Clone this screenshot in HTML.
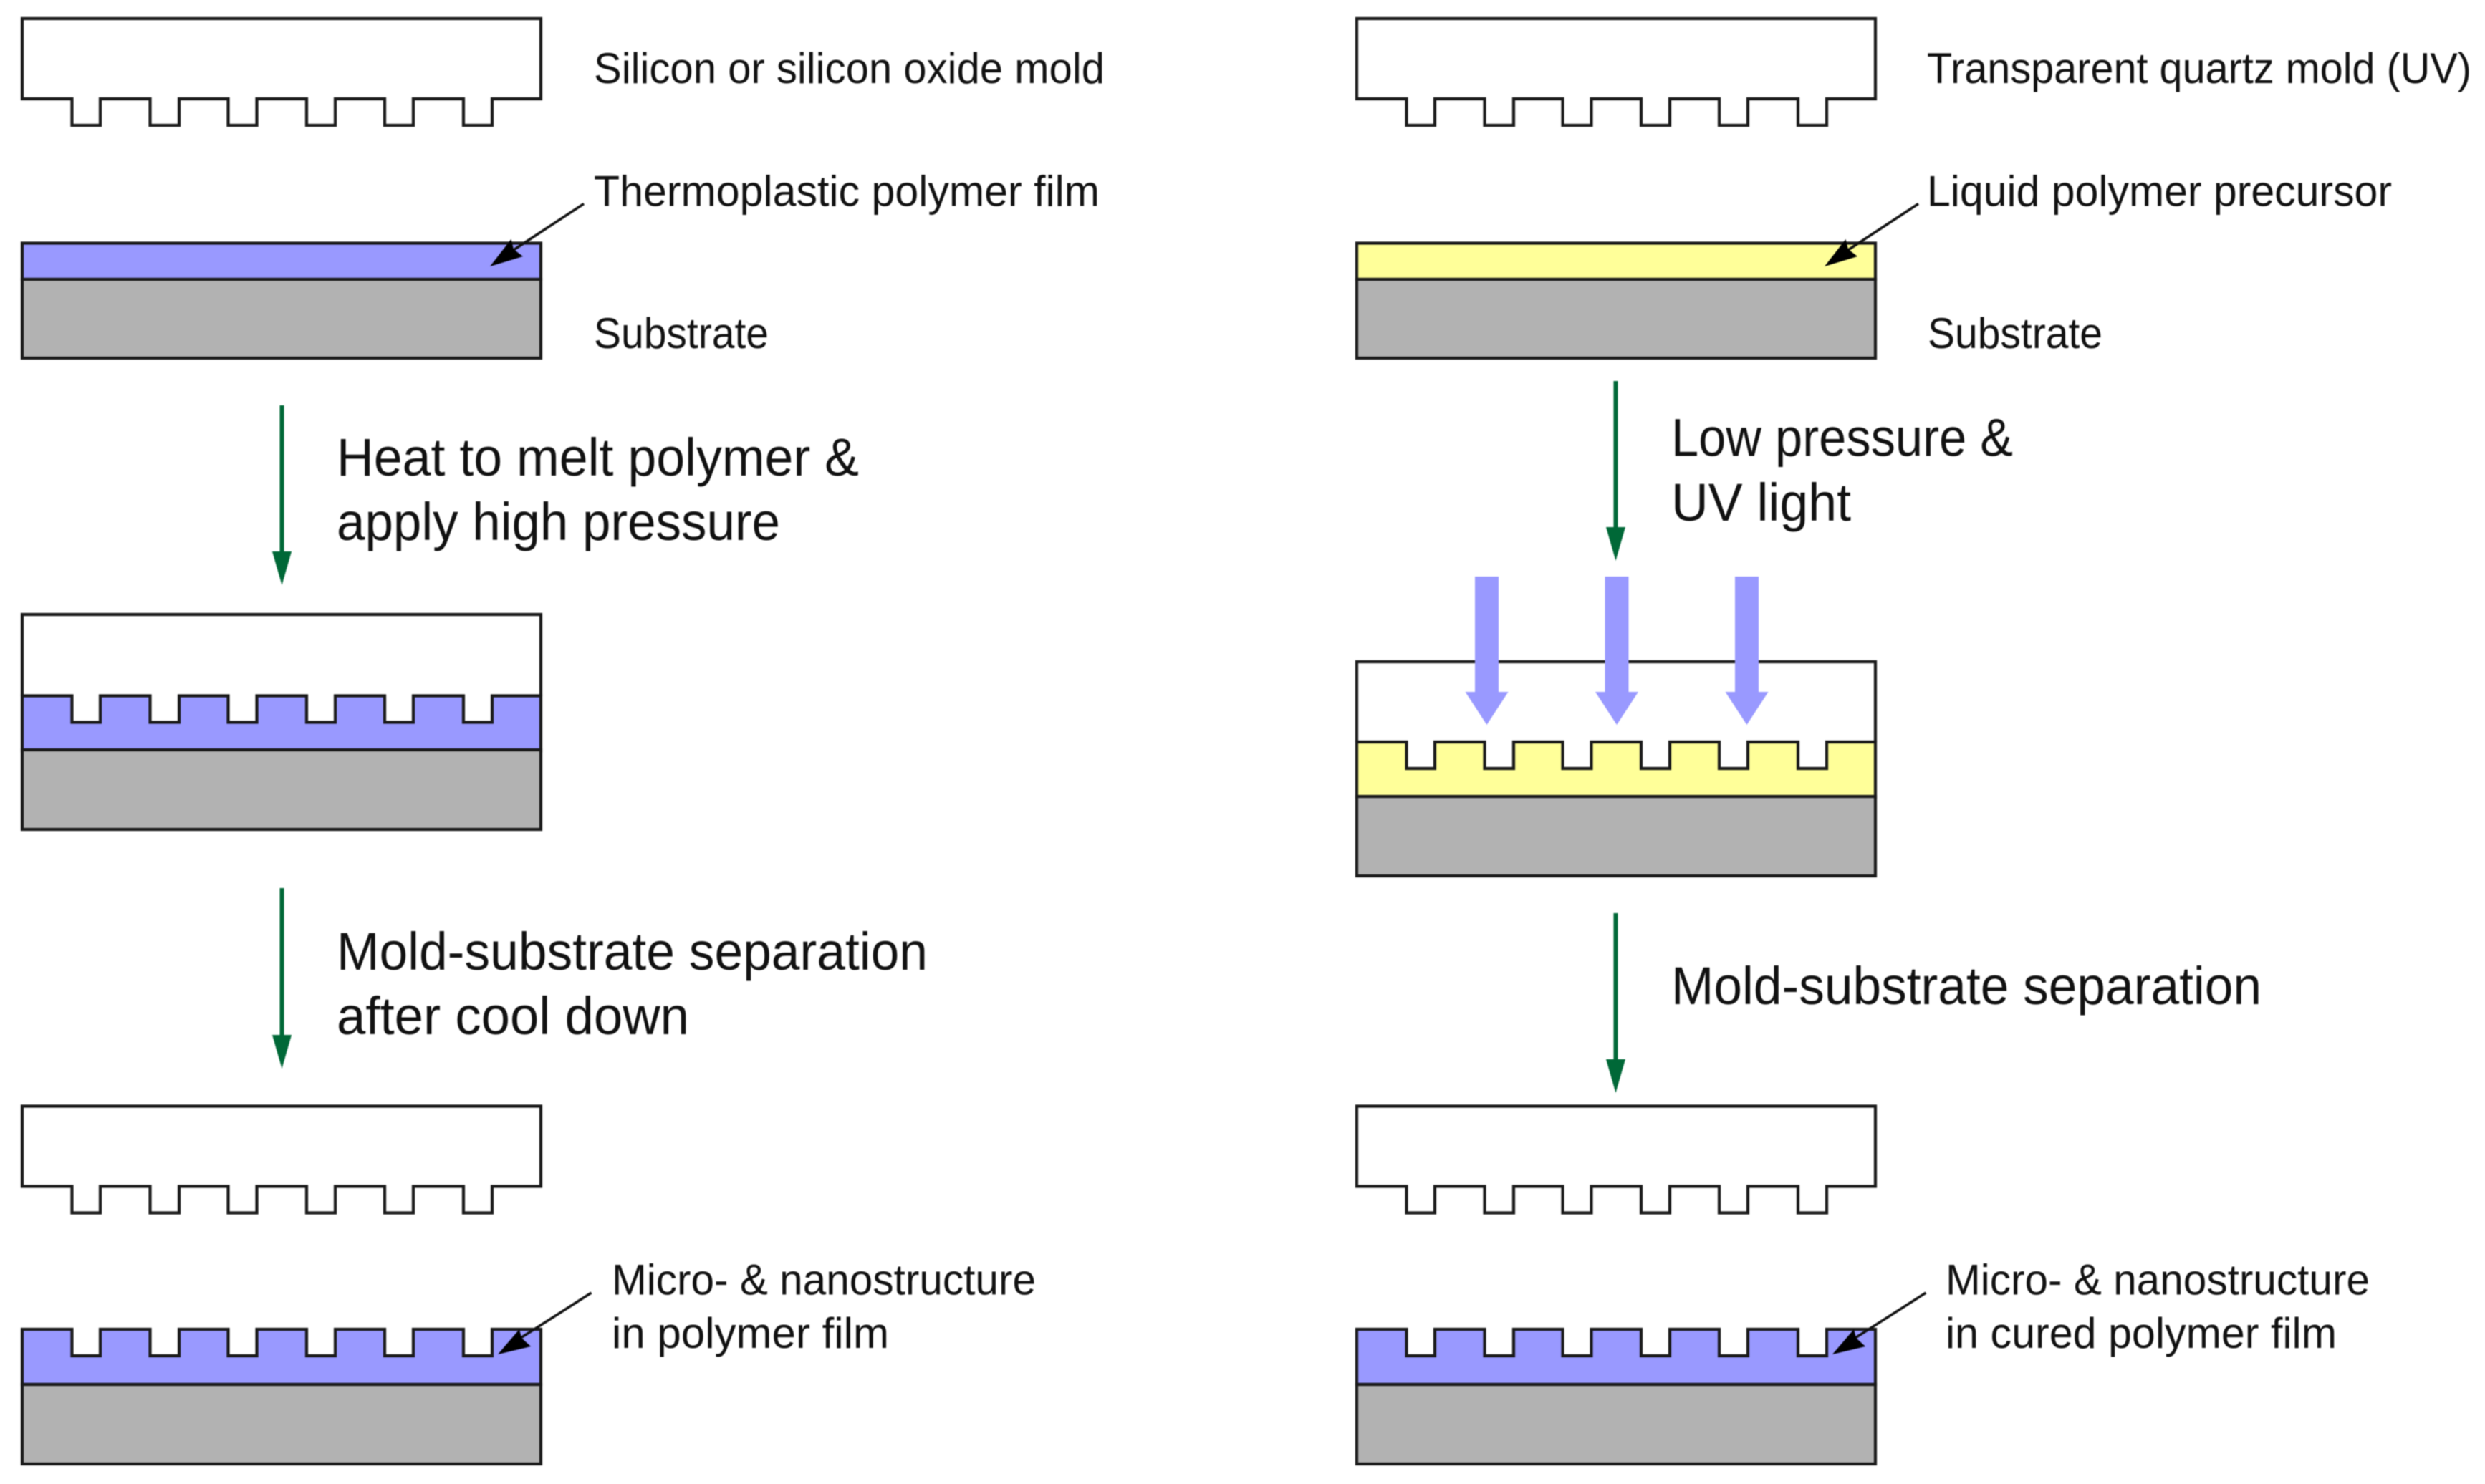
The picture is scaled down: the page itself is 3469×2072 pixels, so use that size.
<!DOCTYPE html>
<html><head><meta charset="utf-8"><style>
html,body{margin:0;padding:0;background:#fff;width:3469px;height:2072px;overflow:hidden}
svg{display:block;filter:blur(.7px)}
text{font-family:"Liberation Sans",sans-serif;fill:#111}
.s{font-size:60px}.b{font-size:74px}
</style></head><body>
<svg xmlns="http://www.w3.org/2000/svg" width="3469" height="2072" viewBox="0 0 3469 2072">
<defs>
<path id="mold" d="M31 0H755V112H687V149H647V112H577V149H537V112H468V149H428V112H358.5V149H318.5V112H250V149H209.5V112H140V149H100.5V112H31Z" fill="#fff" stroke="#1a1a1a" stroke-width="4.2"/>
<g id="poly"><path d="M31 0H100.5V37H140V0H209.5V37H250V0H318.5V37H358.5V0H428V37H468V0H537V37H577V0H647V37H687V0H755V77H31Z" stroke="#1a1a1a" stroke-width="4.2"/></g>
<polygon id="uv" points="-16.5,0 16.5,0 16.5,161 30,161 0,207 -30,161 -16.5,161" fill="#9999ff"/>
<g id="green"><polygon points="-13.5,0 13.5,0 0,47" fill="#006837"/></g>
</defs>

<!-- LEFT COLUMN -->
<use href="#mold" y="26"/>
<rect x="31" y="339.5" width="724" height="50.5" fill="#9999ff" stroke="#1a1a1a" stroke-width="4.2"/>
<rect x="31" y="390" width="724" height="110" fill="#b2b2b2" stroke="#1a1a1a" stroke-width="4.2"/>
<line x1="815" y1="284.5" x2="717" y2="349" stroke="#111" stroke-width="3.6"/>
<polygon points="684,372 713.5,334 717,348 730,358" fill="#000"/>

<line x1="393.5" y1="566" x2="393.5" y2="772" stroke="#006837" stroke-width="6"/>
<use href="#green" x="393.5" y="770"/>

<path d="M31 972V858H755V972" fill="#fff" stroke="#1a1a1a" stroke-width="4.2"/>
<use href="#poly" y="971.5" fill="#9999ff"/>
<rect x="31" y="1047" width="724" height="111" fill="#b2b2b2" stroke="#1a1a1a" stroke-width="4.2"/>

<line x1="393.5" y1="1240" x2="393.5" y2="1447" stroke="#006837" stroke-width="6"/>
<use href="#green" x="393.5" y="1445"/>

<use href="#mold" y="1544.5"/>
<use href="#poly" y="1856" fill="#9999ff"/>
<rect x="31" y="1933" width="724" height="111" fill="#b2b2b2" stroke="#1a1a1a" stroke-width="4.2"/>
<line x1="825.5" y1="1805" x2="727" y2="1868" stroke="#111" stroke-width="3.6"/>
<polygon points="695,1891 725,1856 728,1868 741,1880" fill="#000"/>

<!-- RIGHT COLUMN -->
<g transform="translate(1863 0)">
<use href="#mold" y="26"/>
<rect x="31" y="339.5" width="724" height="50.5" fill="#ffff99" stroke="#1a1a1a" stroke-width="4.2"/>
<rect x="31" y="390" width="724" height="110" fill="#b2b2b2" stroke="#1a1a1a" stroke-width="4.2"/>
<line x1="815" y1="284.5" x2="717" y2="349" stroke="#111" stroke-width="3.6"/>
<polygon points="684,372 713.5,334 717,348 730,358" fill="#000"/>

<path d="M31 1036V924H755V1036" fill="#fff" stroke="#1a1a1a" stroke-width="4.2"/>
<use href="#poly" y="1036" fill="#ffff99"/>
<rect x="31" y="1112" width="724" height="111" fill="#b2b2b2" stroke="#1a1a1a" stroke-width="4.2"/>

<use href="#mold" y="1544.5"/>
<use href="#poly" y="1856" fill="#9999ff"/>
<rect x="31" y="1933" width="724" height="111" fill="#b2b2b2" stroke="#1a1a1a" stroke-width="4.2"/>
<line x1="825.5" y1="1805" x2="727" y2="1868" stroke="#111" stroke-width="3.6"/>
<polygon points="695,1891 725,1856 728,1868 741,1880" fill="#000"/>
</g>

<line x1="2255.5" y1="532" x2="2255.5" y2="738" stroke="#006837" stroke-width="6"/>
<use href="#green" x="2255.5" y="736"/>
<line x1="2255.5" y1="1275" x2="2255.5" y2="1481" stroke="#006837" stroke-width="6"/>
<use href="#green" x="2255.5" y="1479"/>

<use href="#uv" x="2075.5" y="805"/>
<use href="#uv" x="2257" y="805"/>
<use href="#uv" x="2438.5" y="805"/>

<!-- TEXT -->
<text class="s" x="829" y="116" textLength="713" lengthAdjust="spacingAndGlyphs">Silicon or silicon oxide mold</text>
<text class="s" x="829" y="287.5" textLength="706" lengthAdjust="spacingAndGlyphs">Thermoplastic polymer film</text>
<text class="s" x="829" y="486" textLength="244" lengthAdjust="spacingAndGlyphs">Substrate</text>
<text class="b" x="470" y="664" textLength="729" lengthAdjust="spacingAndGlyphs">Heat to melt polymer &amp;</text>
<text class="b" x="470" y="754" textLength="619" lengthAdjust="spacingAndGlyphs">apply high pressure</text>
<text class="b" x="470" y="1354" textLength="825" lengthAdjust="spacingAndGlyphs">Mold-substrate separation</text>
<text class="b" x="470" y="1444" textLength="492" lengthAdjust="spacingAndGlyphs">after cool down</text>
<text class="s" x="854" y="1807.5" textLength="592" lengthAdjust="spacingAndGlyphs">Micro- &amp; nanostructure</text>
<text class="s" x="854" y="1882" textLength="387" lengthAdjust="spacingAndGlyphs">in polymer film</text>

<text class="s" x="2690" y="116" textLength="760" lengthAdjust="spacingAndGlyphs">Transparent quartz mold (UV)</text>
<text class="s" x="2690" y="287.5" textLength="649" lengthAdjust="spacingAndGlyphs">Liquid polymer precursor</text>
<text class="s" x="2691" y="486" textLength="244" lengthAdjust="spacingAndGlyphs">Substrate</text>
<text class="b" x="2333" y="636.5" textLength="477" lengthAdjust="spacingAndGlyphs">Low pressure &amp;</text>
<text class="b" x="2333" y="727" textLength="251" lengthAdjust="spacingAndGlyphs">UV light</text>
<text class="b" x="2333" y="1402" textLength="824" lengthAdjust="spacingAndGlyphs">Mold-substrate separation</text>
<text class="s" x="2716" y="1807.5" textLength="592" lengthAdjust="spacingAndGlyphs">Micro- &amp; nanostructure</text>
<text class="s" x="2716" y="1882" textLength="546" lengthAdjust="spacingAndGlyphs">in cured polymer film</text>
</svg>
</body></html>
